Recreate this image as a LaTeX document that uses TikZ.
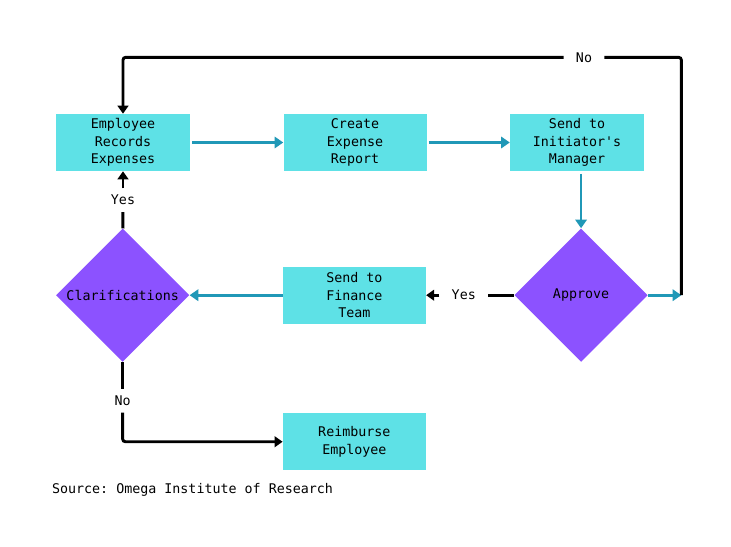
\documentclass[tikz,border=0pt]{standalone}
\usepackage{fontspec}
\setmonofont{DejaVu Sans Mono}
\usetikzlibrary{positioning, arrows.meta, shapes.geometric}
\definecolor{boxcyan}{RGB}{94,225,230}
\definecolor{decpurple}{RGB}{140,82,255}
\definecolor{flowteal}{RGB}{32,152,183}

\begin{document}
\begin{tikzpicture}[
		font=\ttfamily\fontsize{10}{13}\selectfont,
		box/.style={
			rectangle,
			fill=boxcyan,
			align=center,
			inner sep=2pt,
			minimum width=100.5pt,
			minimum height=42.75pt
		},
		widebox/.style={
			box,
			minimum width=107.25pt
		},
		decision/.style={
			diamond,
			fill=decpurple,
			aspect=1,
			inner sep=0pt,
			minimum width=100pt,
			minimum height=100pt
		},
		arrow/.style={
			-{Triangle[length=6.5pt,width=8.5pt]},
			line width=2pt,
			flowteal
		},
		blkline/.style={
			line width=2.2pt,
			rounded corners=2pt
		},
		blkarrow/.style={
			blkline,
			-{Triangle[length=6pt,width=8pt]}
		},
		answer/.style={
			inner xsep=9pt,
			inner ysep=5pt
		}
		]
		
		\fill[white] (0,0) rectangle (548.25pt,-409.5pt);
		\useasboundingbox (0,0) rectangle (548.25pt,-409.5pt);
		
		\node[box] (ere) at (92.25pt,-106.875pt) {Employee\\Records\\Expenses};
		
		\node[widebox, right=69.75pt of ere] (cer) {Create\\Expense\\Report};
		
		\node[box, right=62.25pt of cer] (sim) {Send to\\Initiator's\\Manager};
		
		\node[decision, below=42.75pt of sim, xshift=3pt] (app) {Approve};
		
		\node[widebox, left=66pt of app] (fin) {Send to\\Finance\\Team};
		
		\node[decision, left=69.75pt of fin] (clar) {Clarifications};
		
		\node[widebox, below=66.75pt of fin] (reimb) {Reimburse\\Employee};
		
		\node[anchor=west] (src) at (35.5pt,-367.5pt) {Source: Omega Institute of Research};
		
		% answers on the decision lines
		\node[answer] (no1) at (438pt,-43pt) {No};
		\node[answer, right=10pt of fin] (yes1) {Yes};
		\node[answer, below=12.75pt of ere] (yes2) {Yes};
		\node[answer, below=20pt of clar] (no2) {No};
		\coordinate[right=25pt of app.east] (turn);
		
		\draw[arrow, shorten <=1.5pt] (ere) -- (cer);
		\draw[arrow, shorten <=1.5pt] (cer) -- (sim);
		\draw[arrow, shorten <=2pt] (sim.south -| app) -- (app);
		\draw[arrow] (app) -- (turn);
		\draw[arrow] (fin) -- (clar);
		
		\draw[blkline] (turn) |- (no1);
		\draw[blkarrow] (no1) -| (ere);
		
		\draw[blkline] (app) -- (yes1);
		\draw[blkarrow] (yes1) -- (fin);
		
		\draw[blkline] (clar) -- (yes2);
		\draw[blkarrow] (yes2) -- (ere);
		
		\draw[blkline] (clar) -- (no2);
		\draw[blkarrow] (no2) |- (reimb);
		
	\end{tikzpicture}
\end{document}
